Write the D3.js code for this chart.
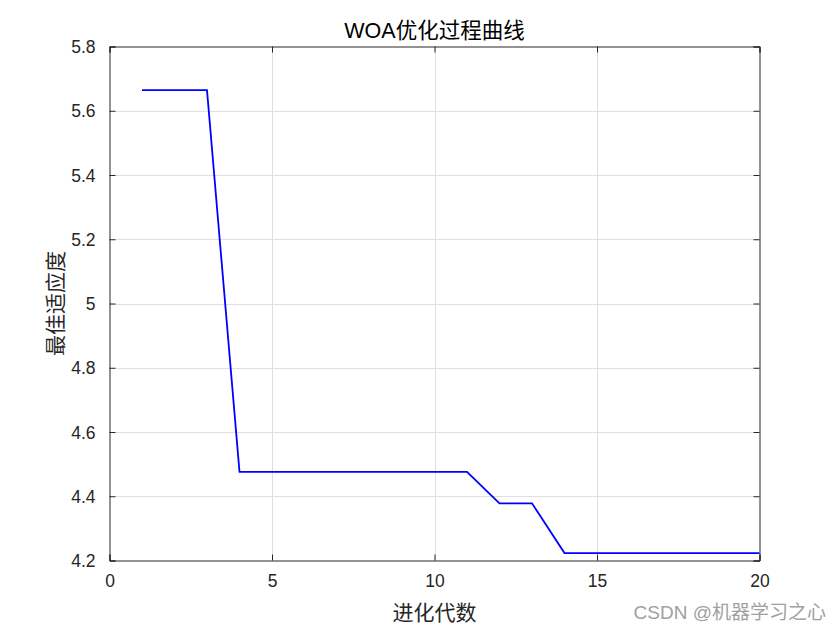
<!DOCTYPE html>
<html><head><meta charset="utf-8">
<script src="https://cdn.jsdelivr.net/npm/d3@7"></script>
<style>body{margin:0;background:#fff;}svg{display:block;}</style>
</head><body>
<svg id="c" width="840" height="630"></svg>
<script>
const generations = [1,2,3,4,5,6,7,8,9,10,11,12,13,14,15,16,17,18,19,20];
const fitness = [5.664,5.664,5.664,4.476,4.476,4.476,4.476,4.476,4.476,4.476,4.476,4.378,4.378,4.223,4.223,4.223,4.223,4.223,4.223,4.223];
const xTicks = [0,5,10,15,20];
const yTicks = [4.2,4.4,4.6,4.8,5,5.2,5.4,5.6,5.8];
const titleText = "WOA优化过程曲线";
const xLabel = "进化代数";
const yLabel = "最佳适应度";
const watermark = "CSDN @机器学习之心";

const svg = d3.select("#c");
const L=109.5, R=759.5, T=46.5, B=560.5;
const x = d3.scaleLinear().domain([0,20]).range([L,R]);
const y = d3.scaleLinear().domain([4.2,5.8]).range([B,T]);
const font = "Arial, 'Liberation Sans', Helvetica, sans-serif";
const cjk = "'Liberation Sans', 'Noto Sans CJK SC', sans-serif";

svg.append("rect").attr("x",L).attr("y",T).attr("width",R-L).attr("height",B-T).attr("fill","#fff");
// grid
svg.append("g").selectAll("line").data(xTicks.slice(1,-1)).join("line")
  .attr("x1",d=>Math.round(x(d))+0.5).attr("x2",d=>Math.round(x(d))+0.5).attr("y1",T).attr("y2",B)
  .attr("stroke","#dfdfdf").attr("stroke-width",1);
svg.append("g").selectAll("line").data(yTicks.slice(1,-1)).join("line")
  .attr("y1",d=>Math.round(y(d))+0.5).attr("y2",d=>Math.round(y(d))+0.5).attr("x1",L).attr("x2",R)
  .attr("stroke","#dfdfdf").attr("stroke-width",1);

// axes
const ax = d3.axisBottom(x).tickValues(xTicks).tickSize(-6).tickPadding(14).tickFormat(d3.format("d"));
const gx = svg.append("g").attr("transform",`translate(0,${B})`).call(ax);
const axT = d3.axisTop(x).tickValues(xTicks).tickSize(-6).tickFormat("");
svg.append("g").attr("transform",`translate(0,${T})`).call(axT);
const ay = d3.axisLeft(y).tickValues(yTicks).tickSize(-6).tickPadding(14).tickFormat(d=>d3.format("")(+d.toFixed(1)));
const gy = svg.append("g").attr("transform",`translate(${L},0)`).call(ay);
const ayR = d3.axisRight(y).tickValues(yTicks).tickSize(-6).tickFormat("");
svg.append("g").attr("transform",`translate(${R},0)`).call(ayR);
svg.selectAll(".domain").attr("stroke","#262626").attr("stroke-width",1);
svg.selectAll(".tick line").attr("stroke","#262626");
svg.selectAll(".tick text").attr("fill","#262626").style("font-family",font).style("font-size","17.5px");
gy.selectAll(".tick text").attr("dy","0.35em");

// line
const line = d3.line().x((d,i)=>x(generations[i])).y(d=>y(d));
svg.append("path").datum(fitness).attr("d",line).attr("fill","none").attr("stroke","#0000ff").attr("stroke-width",1.8);

// texts
svg.append("text").attr("x",(L+R)/2).attr("y",38).attr("text-anchor","middle")
  .style("font-family",cjk).style("font-size","21.5px").attr("fill","#000").text(titleText);
svg.append("text").attr("x",(L+R)/2).attr("y",620).attr("text-anchor","middle")
  .style("font-family",cjk).style("font-size","21px").attr("fill","#262626").text(xLabel);
svg.append("text").attr("transform",`translate(63,${(T+B)/2}) rotate(-90)`).attr("text-anchor","middle")
  .style("font-family",cjk).style("font-size","21px").attr("fill","#262626").text(yLabel);
svg.append("text").attr("x",826).attr("y",619).attr("text-anchor","end")
  .style("font-family",cjk).style("font-size","19px").attr("fill","#a0a0a0").text(watermark);
</script>
</body></html>
